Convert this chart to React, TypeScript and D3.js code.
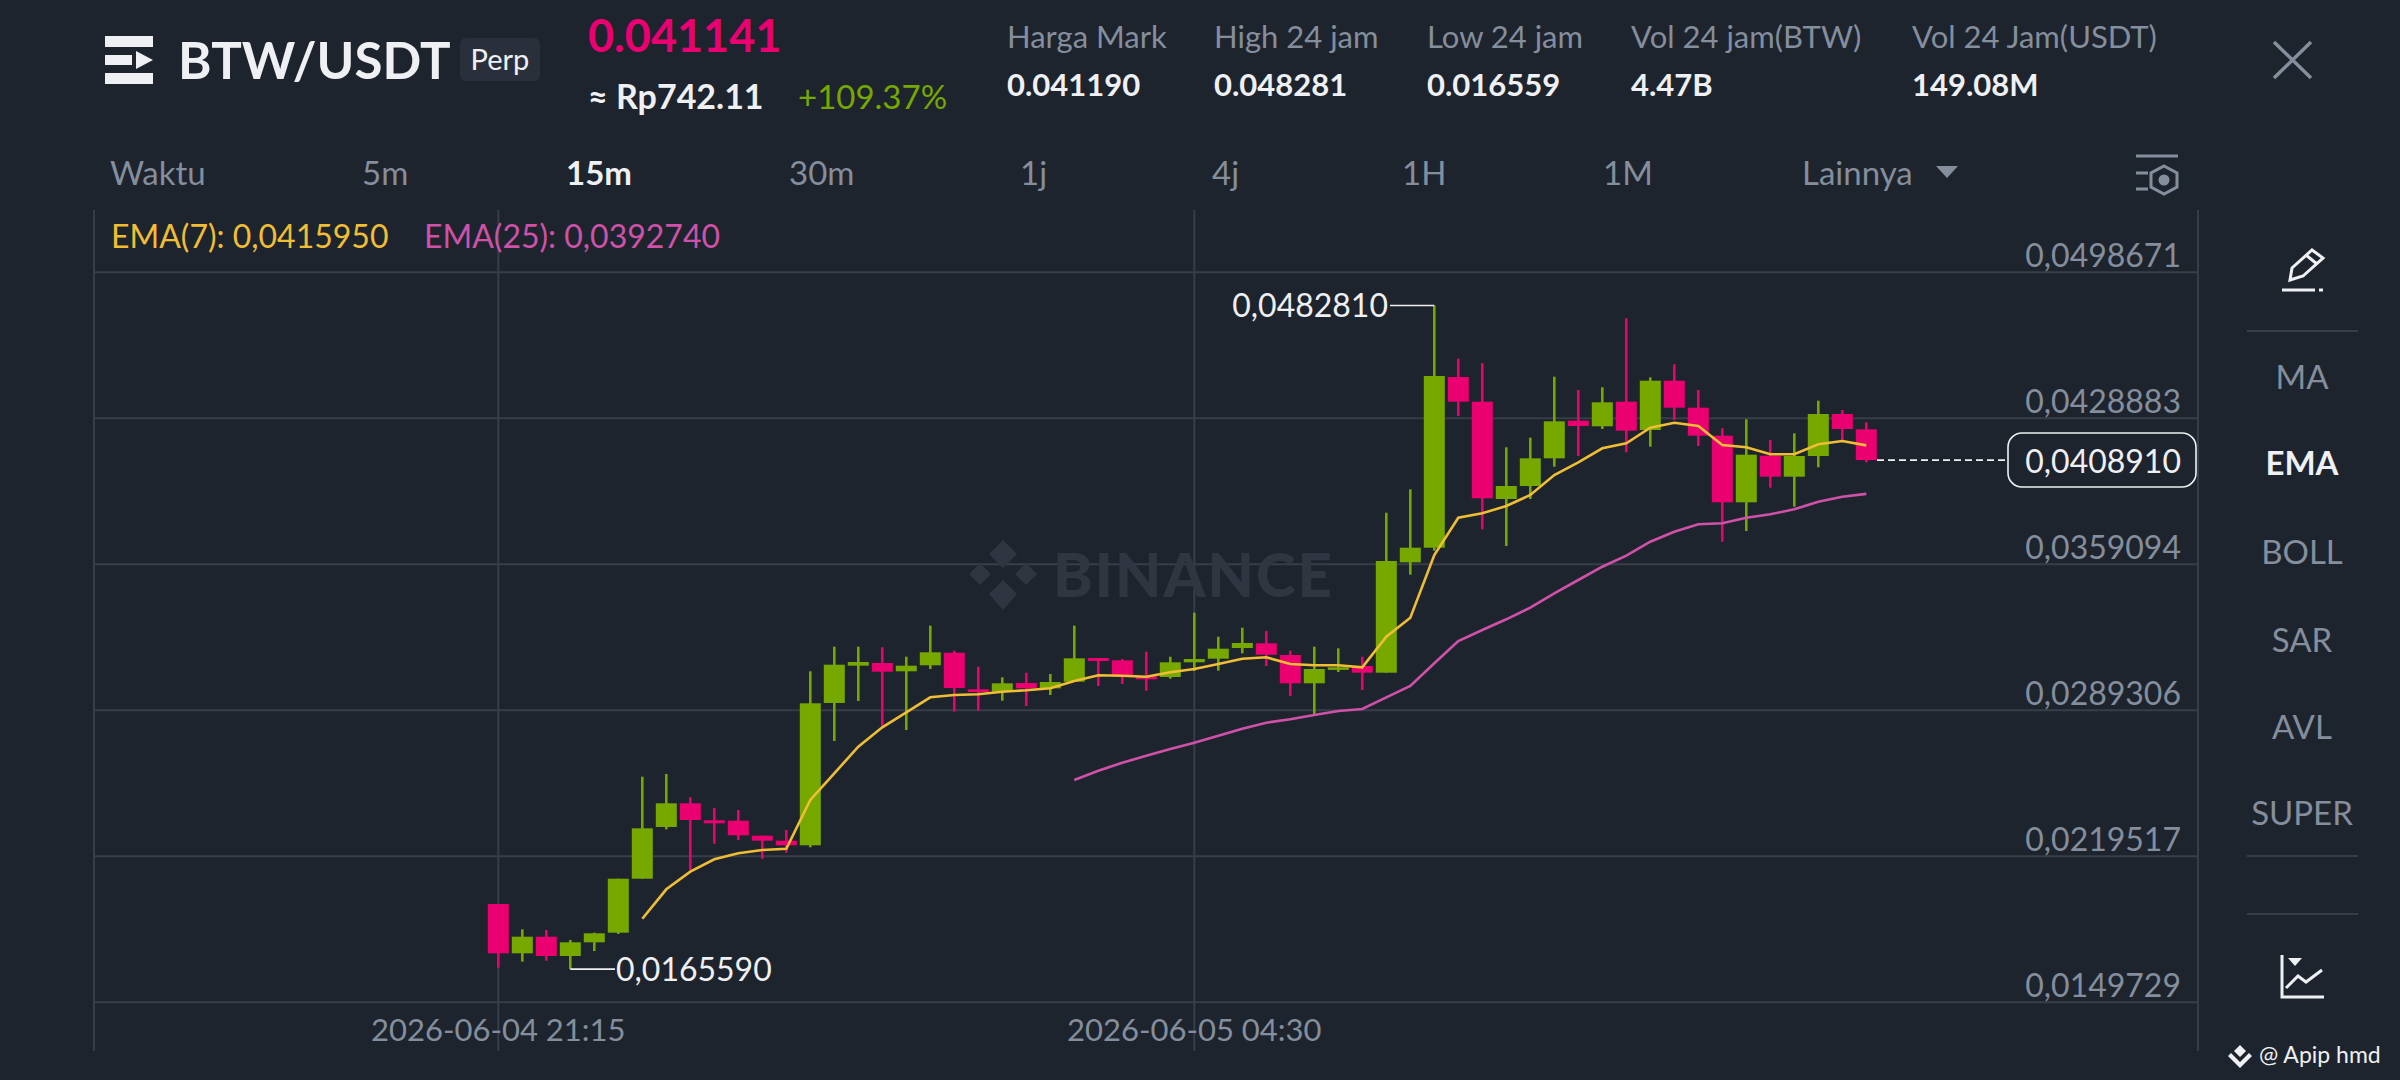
import * as d3 from "d3";

const FONT = "Lato, 'Open Sans', sans-serif";
const BG = "#1e242e";
const GRID = "#373e49";
const UP = "#76a800";
const DOWN = "#ea0070";
const MUTED = "#848e9c";
const WHITE = "#eef0f3";
const EMA7_COLOR = "#efbe35";
const EMA25_COLOR = "#cf52a8";

const PRICE_TICKS = [0.0498671, 0.0428883, 0.0359094, 0.0289306, 0.0219517, 0.0149729];
const TIME_TICKS = [
  { index: 0, label: "2026-06-04 21:15" },
  { index: 29, label: "2026-06-05 04:30" },
];

const OPEN = [
  0.019672, 0.017315, 0.018109, 0.017186, 0.017841, 0.0183, 0.020881, 0.023352, 0.024485, 0.023673,
  0.023654, 0.022937, 0.022698, 0.022478, 0.02928, 0.031063, 0.031192, 0.030795, 0.031082, 0.031684,
  0.029934, 0.02982, 0.030236, 0.029982, 0.030298, 0.031431, 0.031321, 0.030556, 0.030522, 0.031225,
  0.031397, 0.031909, 0.032133, 0.031574, 0.030221, 0.03089, 0.031048, 0.030728, 0.036005, 0.036703,
  0.044862, 0.043682, 0.039031, 0.039652, 0.040976, 0.042774, 0.042506, 0.043682, 0.042329, 0.044686,
  0.043395, 0.042057, 0.038873, 0.041101, 0.040097, 0.041086, 0.043094, 0.042362,
];
const CLOSE = [
  0.017315, 0.018109, 0.017186, 0.017841, 0.018271, 0.020881, 0.02329, 0.024485, 0.023687, 0.023529,
  0.022956, 0.022698, 0.022478, 0.029265, 0.03111, 0.031239, 0.030776, 0.031063, 0.031703, 0.029997,
  0.029805, 0.030221, 0.029982, 0.030283, 0.031416, 0.031287, 0.030604, 0.030412, 0.031225, 0.031383,
  0.031875, 0.032148, 0.031588, 0.030221, 0.030905, 0.030986, 0.030728, 0.036067, 0.036703, 0.04491,
  0.043682, 0.039064, 0.039652, 0.040976, 0.042745, 0.04252, 0.043653, 0.042296, 0.044686, 0.043395,
  0.042057, 0.038873, 0.041148, 0.040097, 0.041086, 0.043094, 0.042377, 0.040891,
];
const HIGH = [
  0.019672, 0.018462, 0.018429, 0.017951, 0.0183, 0.020881, 0.025757, 0.025886, 0.024772, 0.024261,
  0.024165, 0.022937, 0.023209, 0.030795, 0.031971, 0.031971, 0.031942, 0.031493, 0.032975, 0.03178,
  0.031015, 0.030508, 0.030728, 0.030666, 0.032975, 0.031431, 0.031383, 0.031732, 0.031493, 0.033596,
  0.032449, 0.032879, 0.032721, 0.03178, 0.031971, 0.031894, 0.031493, 0.038376, 0.039494, 0.048281,
  0.045737, 0.045517, 0.041502, 0.041961, 0.044877, 0.044241, 0.04437, 0.047668, 0.044848, 0.045469,
  0.044241, 0.04241, 0.04284, 0.041851, 0.042171, 0.04373, 0.043285, 0.042697,
];
const LOW = [
  0.016627, 0.016914, 0.016962, 0.016559, 0.017425, 0.018238, 0.020881, 0.023242, 0.021297, 0.022554,
  0.022731, 0.021837, 0.022124, 0.022382, 0.027463, 0.029375, 0.02818, 0.027989, 0.030905, 0.028864,
  0.028912, 0.02939, 0.029136, 0.029662, 0.030298, 0.030092, 0.030188, 0.029868, 0.030441, 0.030809,
  0.030824, 0.031655, 0.031048, 0.029614, 0.028706, 0.030761, 0.029901, 0.030728, 0.035412, 0.03656,
  0.042998, 0.037582, 0.036784, 0.039031, 0.040575, 0.041086, 0.042377, 0.041263, 0.041531, 0.042807,
  0.041564, 0.03699, 0.037501, 0.039571, 0.038663, 0.040546, 0.041851, 0.040785,
];

const EMA7_START = 6;
const EMA7 = [
  0.018969, 0.020374, 0.021216, 0.021808, 0.022095, 0.022253, 0.022315, 0.024643, 0.025919, 0.027191,
  0.028118, 0.028835, 0.029552, 0.029662, 0.029695, 0.02982, 0.029887, 0.029982, 0.030331, 0.030604,
  0.030585, 0.030537, 0.030747, 0.030905, 0.031144, 0.031397, 0.031464, 0.031144, 0.031082, 0.031082,
  0.030986, 0.032449, 0.033357, 0.036354, 0.038137, 0.038347, 0.038696, 0.039222, 0.040178, 0.040785,
  0.041454, 0.041693, 0.042439, 0.042678, 0.04252, 0.041612, 0.041502, 0.041167, 0.041167, 0.041645,
  0.041803, 0.041595,
];
const EMA25_START = 24;
const EMA25 = [
  0.025599, 0.026044, 0.026426, 0.026761, 0.027081, 0.027382, 0.027717, 0.028051, 0.028338, 0.0285,
  0.028706, 0.028897, 0.028993, 0.029552, 0.030092, 0.031177, 0.032243, 0.032769, 0.03328, 0.033835,
  0.034523, 0.035159, 0.035795, 0.036321, 0.03699, 0.037468, 0.037821, 0.037869, 0.038137, 0.038299,
  0.038538, 0.038902, 0.039141, 0.039274,
];

const STATS = [
  { x: 1007, label: "Harga Mark", value: "0.041190" },
  { x: 1214, label: "High 24 jam", value: "0.048281" },
  { x: 1427, label: "Low 24 jam", value: "0.016559" },
  { x: 1631, label: "Vol 24 jam(BTW)", value: "4.47B" },
  { x: 1912, label: "Vol 24 Jam(USDT)", value: "149.08M" },
];
const INTERVALS = [
  { x: 110, label: "Waktu" },
  { x: 362, label: "5m" },
  { x: 566, label: "15m", active: true },
  { x: 789, label: "30m" },
  { x: 1020, label: "1j" },
  { x: 1212, label: "4j" },
  { x: 1402, label: "1H" },
  { x: 1603, label: "1M" },
  { x: 1802, label: "Lainnya" },
];
const INDICATORS = [
  { y: 389, label: "MA" },
  { y: 475, label: "EMA", active: true },
  { y: 564, label: "BOLL" },
  { y: 652, label: "SAR" },
  { y: 739, label: "AVL" },
  { y: 825, label: "SUPER" },
];

const x = d3.scaleLinear().domain([0, 57]).range([498.3, 1866.3]);
const y = d3.scaleLinear().domain([0.0149729, 0.0498671]).range([1002.3, 272.3]);
const fmt = (v: number) => v.toFixed(7).replace(".", ",");

const CANDLE_W = 21;
const PLOT = { left: 94, right: 2198, top: 210, bottom: 1051 };

const lineFrom = (start: number) =>
  d3
    .line<number>()
    .x((_, i) => x(start + i))
    .y((d) => y(d));

export default function App() {
  const hiIndex = d3.maxIndex(HIGH);
  const loIndex = d3.minIndex(LOW);
  const last = CLOSE[CLOSE.length - 1];

  return (
    <div style={{ position: "fixed", left: 0, top: 0 }}>
      <svg width={2400} height={1080} style={{ display: "block", background: BG }} fontFamily={FONT}>
        {/* header */}
        <g fill={WHITE}>
          <rect x={105} y={36} width={48} height={11} />
          <rect x={105} y={55} width={27} height={10} />
          <path d="M136 51 L153 60 L136 69 Z" />
          <rect x={105} y={73} width={48} height={11} />
        </g>
        <text x={178} y={79} fontSize={51} fontWeight={700} fill={WHITE}>BTW/USDT</text>
        <rect x={460} y={38} width={80} height={43} rx={6} fill="#2a303b" />
        <text x={500} y={70} fontSize={29} textAnchor="middle" fill={WHITE}>Perp</text>
        <text x={588} y={52} fontSize={45} fontWeight={700} fill={DOWN}>0.041141</text>
        <text x={588} y={109} fontSize={34} fontWeight={700} fill={WHITE}>≈ Rp742.11</text>
        <text x={798} y={109} fontSize={33} fill={UP}>+109.37%</text>

        {STATS.map((s) => (
          <g key={s.label}>
            <text x={s.x} y={48} fontSize={31} fill={MUTED}>{s.label}</text>
            <text x={s.x} y={96} fontSize={31} fontWeight={700} fill={WHITE}>{s.value}</text>
          </g>
        ))}
        <path d="M2274 42 L2311 78 M2311 42 L2274 78" stroke={MUTED} strokeWidth={3.5} fill="none" />

        {INTERVALS.map((t) => (
          <text key={t.label} x={t.x} y={185} fontSize={33} fontWeight={t.active ? 700 : 400} fill={t.active ? WHITE : MUTED}>
            {t.label}
          </text>
        ))}
        <path d="M1936 166 H1958 L1947 178 Z" fill={MUTED} />
        <g stroke={MUTED} strokeWidth={3} fill="none">
          <path d="M2136 156 H2178 M2136 173 H2148 M2136 189 H2148" />
          <path d="M2164 166 L2177 173 V187 L2164 194 L2151 187 V173 Z" />
          <circle cx={2164} cy={180} r={4} fill={MUTED} />
        </g>

        {/* plot frame and grid */}
        <g stroke={GRID} strokeWidth={2}>
          {PRICE_TICKS.map((p) => (
            <line key={p} x1={PLOT.left} x2={PLOT.right} y1={y(p)} y2={y(p)} />
          ))}
          <line x1={PLOT.left} x2={PLOT.left} y1={PLOT.top} y2={PLOT.bottom} />
          <line x1={PLOT.right} x2={PLOT.right} y1={PLOT.top} y2={PLOT.bottom} />
          {TIME_TICKS.map((t) => (
            <line key={t.index} x1={x(t.index)} x2={x(t.index)} y1={PLOT.top} y2={PLOT.bottom} />
          ))}
        </g>

        {/* watermark */}
        <g fill="#2f3641">
          <path d="M1003 540 L1017 554 L1003 568 L989 554 Z M969 574 L980 563 L991 574 L980 585 Z M1015 574 L1026 563 L1037 574 L1026 585 Z M1003 580 L1017 594 L1003 610 L989 594 Z" />
          <text x={1053} y={597} fontSize={60} fontWeight={900} letterSpacing={2}>BINANCE</text>
        </g>

        {/* candles */}
        {OPEN.map((o, i) => {
          const c = CLOSE[i];
          const color = c >= o ? UP : DOWN;
          const top = y(Math.max(o, c));
          const bottom = y(Math.min(o, c));
          return (
            <g key={i}>
              <line x1={x(i)} x2={x(i)} y1={y(HIGH[i])} y2={y(LOW[i])} stroke={color} strokeWidth={2.6} />
              <rect x={x(i) - CANDLE_W / 2} y={top} width={CANDLE_W} height={Math.max(bottom - top, 2.6)} fill={color} />
            </g>
          );
        })}

        <path d={lineFrom(EMA25_START)(EMA25) ?? ""} fill="none" stroke={EMA25_COLOR} strokeWidth={2.6} />
        <path d={lineFrom(EMA7_START)(EMA7) ?? ""} fill="none" stroke={EMA7_COLOR} strokeWidth={2.6} />

        {/* high / low markers */}
        <line x1={1390} x2={x(hiIndex)} y1={y(HIGH[hiIndex])} y2={y(HIGH[hiIndex])} stroke={WHITE} strokeWidth={1.6} />
        <text x={1388} y={y(HIGH[hiIndex]) + 12} fontSize={32} textAnchor="end" fill={WHITE}>{fmt(0.048281)}</text>
        <line x1={x(loIndex)} x2={615} y1={y(LOW[loIndex])} y2={y(LOW[loIndex])} stroke={WHITE} strokeWidth={1.6} />
        <text x={616} y={y(LOW[loIndex]) + 12} fontSize={32} fill={WHITE}>{fmt(0.016559)}</text>

        {/* legend */}
        <text x={111} y={248} fontSize={32} fill={EMA7_COLOR}>EMA(7): {fmt(EMA7[EMA7.length - 1] + 0.0000000)}</text>
        <text x={424} y={248} fontSize={32} fill={EMA25_COLOR}>EMA(25): {fmt(EMA25[EMA25.length - 1])}</text>

        {/* price axis */}
        {PRICE_TICKS.map((p) => (
          <text key={p} x={2181} y={y(p) - 5.6} fontSize={32} textAnchor="end" fill={MUTED}>{fmt(p)}</text>
        ))}
        {TIME_TICKS.map((t) => (
          <text key={t.index} x={x(t.index)} y={1041} fontSize={31} textAnchor="middle" fill={MUTED}>{t.label}</text>
        ))}

        {/* last price */}
        <line x1={1877} x2={2005} y1={y(last)} y2={y(last)} stroke={WHITE} strokeWidth={1.6} strokeDasharray="7 4" />
        <rect x={2008} y={433} width={188} height={54} rx={14} fill={BG} stroke={WHITE} strokeWidth={1.6} />
        <text x={2181} y={472.7} fontSize={32} textAnchor="end" fill={WHITE}>{fmt(last)}</text>

        {/* side toolbar */}
        <g fill="none" stroke={WHITE} strokeWidth={3}>
          <path d="M2290 280 L2292 268 L2312 250 L2323 258 L2303 276 Z M2306 255 L2317 264" />
          <path d="M2282 290 H2315 M2319 290 H2323" />
          <path d="M2282 955 V997 H2324 M2286 988 L2298 976 L2306 982 L2322 970" />
        </g>
        <path d="M2288 958 H2302 L2295 966 Z" fill={WHITE} />
        <g stroke={GRID} strokeWidth={2}>
          <line x1={2247} x2={2358} y1={331} y2={331} />
          <line x1={2247} x2={2358} y1={856} y2={856} />
          <line x1={2247} x2={2358} y1={914} y2={914} />
        </g>
        {INDICATORS.map((m) => (
          <text key={m.label} x={2302} y={m.y} fontSize={33} textAnchor="middle" fontWeight={m.active ? 700 : 400} fill={m.active ? WHITE : MUTED}>
            {m.label}
          </text>
        ))}

        {/* footer */}
        <path d="M2240 1045 L2246 1051 L2240 1057 L2234 1051 Z M2240 1062 L2249 1053 L2252 1056 L2240 1068 L2228 1056 L2231 1053 Z" fill={WHITE} />
        <text x={2259} y={1063} fontSize={23} fill={WHITE}>@ Apip hmd</text>
      </svg>
    </div>
  );
}
